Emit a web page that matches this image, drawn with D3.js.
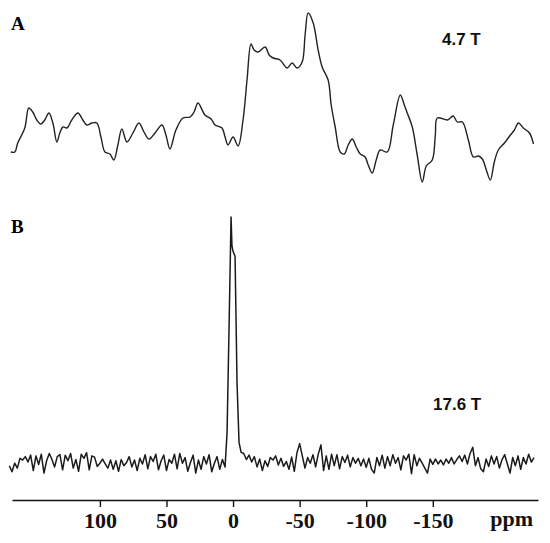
<!DOCTYPE html>
<html>
<head>
<meta charset="utf-8">
<script src="https://cdn.jsdelivr.net/npm/d3@7"></script>
<style>
  body { margin: 0; background: white; }
</style>
</head>
<body>
<div id="chart"></div>
<script>
// spectrum A (4.7 T): [ppm, intensity]
var spectrumA = [
  [166.9, 38], [163.9, 38], [161.7, 47], [156.4, 62], [153.4, 82], [150.4, 78],
  [147.4, 70], [144.4, 66], [141.4, 70], [138.3, 77], [135.3, 67], [132.3, 48],
  [130.1, 57], [127.8, 63], [124.8, 62], [121.1, 70], [116.5, 77], [112.8, 70],
  [109.8, 65], [106.0, 67], [102.3, 67], [99.2, 53], [96.2, 38], [92.5, 36],
  [89.5, 30], [86.5, 45], [83.5, 61], [79.7, 48], [75.2, 57], [70.7, 67],
  [66.9, 58], [63.2, 51], [58.6, 57], [53.4, 65], [50.4, 55], [47.4, 41],
  [42.9, 60], [37.6, 72], [32.3, 73], [29.3, 78], [26.3, 87], [21.1, 75],
  [16.5, 71], [13.5, 65], [8.3, 62], [6.0, 53], [3.8, 45], [0, 53],
  [-3.8, 44], [-7.5, 70], [-10.5, 110], [-13.5, 146], [-15.8, 140], [-18.8, 138],
  [-24.1, 143], [-27.1, 135], [-30.1, 132], [-35.3, 130], [-40.6, 122], [-44.4, 127],
  [-48.1, 122], [-51.9, 128], [-54.1, 155], [-56.4, 177], [-60.2, 167], [-63.9, 140],
  [-66.9, 123], [-71.4, 110], [-73.7, 85], [-76.7, 63], [-80.5, 38], [-83.5, 36],
  [-86.5, 45], [-89.5, 51], [-92.5, 43], [-95.5, 36], [-99.2, 33], [-101.5, 25],
  [-104.5, 17], [-107.5, 30], [-110.5, 40], [-115.8, 38], [-120.3, 65], [-125.6, 95],
  [-128.6, 85], [-130.8, 77], [-134.6, 63], [-138.3, 35], [-142.1, 8], [-145.1, 24],
  [-149.6, 30], [-151.9, 55], [-153.4, 72], [-160.9, 70], [-163.2, 72], [-165.4, 74],
  [-168.4, 68], [-172.2, 68], [-176.7, 50], [-180.5, 33], [-184.2, 34], [-187.2, 31],
  [-190.2, 20], [-193.2, 10], [-196.2, 28], [-199.2, 40], [-203.8, 47], [-208.3, 55],
  [-211.3, 60], [-214.3, 67], [-218.0, 62], [-222.6, 57], [-225.6, 46]
];

// spectrum B (17.6 T): noisy baseline plus the sharp line near 0 ppm
var spectrumB = [
  [168, -1.5], [166, -4.0], [164, -0.5], [162, -2.5], [160, 1.5], [158, 0.8],
  [156, 2.2], [154, 0.0], [152, 2.8], [150, -3.5], [148, 2.5], [146, -1.0],
  [144, 3.2], [142, -4.5], [140, 0.5], [138, 3.5], [136, 1.0], [134, -2.0],
  [132, 2.2], [130, 3.0], [128, -3.2], [126, 2.8], [124, 0.5], [122, 3.5],
  [120, -2.5], [118, 1.0], [116, -3.8], [114, 3.2], [112, 1.5], [110, 3.8],
  [108, -3.2], [106, 2.5], [104, 2.0], [102, -1.8], [100, -0.5], [98, 1.2],
  [96, -0.8], [94, -2.5], [92, 0.8], [90, -3.0], [88, 0.5], [86, -3.8],
  [84, 1.0], [82, -1.5], [80, -0.2], [78, 2.2], [76, -2.0], [74, 0.8],
  [72, -3.5], [70, 1.5], [68, -0.8], [66, 3.0], [64, -2.8], [62, 2.2],
  [60, 0.2], [58, 3.2], [56, -3.2], [54, 0.5], [52, 2.8], [50, -3.5],
  [48, 1.0], [46, -0.5], [44, 3.2], [42, -2.8], [40, 3.5], [38, -0.5],
  [36, 1.8], [34, -3.8], [32, -0.2], [30, 2.8], [28, -4.5], [26, 0.8],
  [24, -3.0], [22, 2.2], [20, -0.8], [18, 3.0], [16, -4.0], [14, -0.5],
  [12, 2.2], [10, -3.0], [8, 1.0],
  // the peak
  [6, -2], [4.5, 12], [3, 55], [1.5, 100], [0.8, 88], [0, 86],
  [-1.5, 84], [-3, 32], [-4.5, 8], [-6, 4],
  [-8, 3.5], [-10, 1.0], [-12, 2.8], [-14, 0.0], [-16, 2.2], [-18, -2.0],
  [-20, 1.2], [-22, -3.5], [-24, 0.5], [-26, -1.8], [-28, 1.8], [-30, 0.8],
  [-32, 2.5], [-34, -1.2], [-36, 1.5], [-38, -1.8], [-40, 0.2], [-42, -3.0],
  [-44, 2.0], [-46, -3.8], [-48, 3.8], [-50, 7.5], [-52, 2.5], [-54, -2.5],
  [-56, 1.8], [-58, -0.5], [-60, 3.0], [-62, -2.0], [-64, 3.2], [-66, 7.0],
  [-68, -3.5], [-70, 2.5], [-72, -3.0], [-74, 3.2], [-76, -1.5], [-78, 3.0],
  [-80, -2.8], [-82, 2.2], [-84, -0.2], [-86, 2.8], [-88, -2.0], [-90, 1.8],
  [-92, -0.5], [-94, 1.5], [-96, -1.5], [-98, 1.2], [-100, -2.2], [-102, 1.5],
  [-104, -3.0], [-106, -4.5], [-108, 1.8], [-110, -1.5], [-112, 2.8], [-114, -2.5],
  [-116, 2.2], [-118, -1.5], [-120, 3.0], [-122, -0.5], [-124, 1.8], [-126, -3.2],
  [-128, 2.5], [-130, 0.8], [-132, 3.2], [-134, -4.8], [-136, 3.0], [-138, -1.5],
  [-140, 1.5], [-142, -0.5], [-144, -2.5], [-146, -4.5], [-148, 1.2], [-150, -1.0],
  [-152, 1.2], [-154, -0.8], [-156, 0.8], [-158, -1.2], [-160, 1.2], [-162, -0.5],
  [-164, 1.8], [-166, -0.8], [-168, 1.0], [-170, 2.5], [-172, 0.2], [-174, 2.8],
  [-176, -0.8], [-178, 3.5], [-180, 6.0], [-182, -1.5], [-184, 1.8], [-186, -2.8],
  [-188, -4.0], [-190, 1.2], [-192, -1.8], [-194, 2.5], [-196, -0.8], [-198, 2.2],
  [-200, -2.5], [-202, 1.0], [-204, 3.0], [-206, -0.8], [-208, -4.5], [-210, 1.8],
  [-212, -1.5], [-214, 2.5], [-216, -3.0], [-218, 1.8], [-220, -0.8], [-222, 3.2],
  [-224, 0.0], [-226, 1.8]
];

var ppmTicks = [100, 50, 0, -50, -100, -150];
var fieldLabels = ["4.7 T", "17.6 T"];
var panelLabels = ["A", "B"];

let width = 550;
let height = 543;

var svg = d3.select("#chart")
  .append("svg")
  .attr("width", width)
  .attr("height", height)
  .style("background", "white");

// ppm axis runs backwards (high ppm on the left)
var x = d3.scaleLinear().domain([166, -229]).range([12, 538]);

// each panel gets its own vertical scale
var yA = d3.scaleLinear().domain([0, 178]).range([190, 12]);
var yB = d3.scaleLinear().domain([0, 100]).range([462, 217]);

var lineA = d3.line()
  .x(d => x(d[0]))
  .y(d => yA(d[1]))
  .curve(d3.curveCatmullRom.alpha(0.5));

var lineB = d3.line()
  .x(d => x(d[0]))
  .y(d => yB(d[1]));

svg.append("path")
  .datum(spectrumA)
  .attr("fill", "none")
  .attr("stroke", "#222")
  .attr("stroke-width", 1.4)
  .attr("d", lineA);

svg.append("path")
  .datum(spectrumB)
  .attr("fill", "none")
  .attr("stroke", "#1a1a1a")
  .attr("stroke-width", 1.5)
  .attr("stroke-linejoin", "round")
  .attr("d", lineB);

// bottom ppm axis, plain hyphen for negatives like the original
var axis = svg.append("g")
  .attr("transform", "translate(0,500)")
  .call(d3.axisBottom(x)
    .tickValues(ppmTicks)
    .tickFormat(d => String(d))
    .tickSize(7)
    .tickSizeOuter(0));

axis.select(".domain").attr("stroke", "#111").attr("stroke-width", 1.6);
axis.selectAll(".tick line").attr("stroke", "#111").attr("stroke-width", 1.4);
axis.selectAll(".tick text")
  .attr("y", 28)
  .attr("dy", 0)
  .attr("fill", "#111")
  .style("font-family", "'Liberation Serif', 'Times New Roman', serif")
  .style("font-weight", "bold")
  .style("font-size", "22px");

svg.append("text")
  .attr("x", 533)
  .attr("y", 526)
  .attr("text-anchor", "end")
  .attr("fill", "#111")
  .style("font-family", "'Liberation Serif', 'Times New Roman', serif")
  .style("font-weight", "bold")
  .style("font-size", "22px")
  .text("ppm");

// panel letters
svg.append("text")
  .attr("x", 11)
  .attr("y", 30)
  .style("font-family", "'Liberation Serif', 'Times New Roman', serif")
  .style("font-weight", "bold")
  .style("font-size", "19px")
  .text(panelLabels[0]);

svg.append("text")
  .attr("x", 11)
  .attr("y", 233)
  .style("font-family", "'Liberation Serif', 'Times New Roman', serif")
  .style("font-weight", "bold")
  .style("font-size", "19px")
  .text(panelLabels[1]);

// field strength labels
svg.append("text")
  .attr("x", 442)
  .attr("y", 45)
  .attr("fill", "#111")
  .style("font-family", "'Liberation Sans', Arial, sans-serif")
  .style("font-weight", "bold")
  .style("font-size", "17px")
  .text(fieldLabels[0]);

svg.append("text")
  .attr("x", 433)
  .attr("y", 410)
  .attr("fill", "#111")
  .style("font-family", "'Liberation Sans', Arial, sans-serif")
  .style("font-weight", "bold")
  .style("font-size", "17px")
  .text(fieldLabels[1]);
</script>
</body>
</html>
